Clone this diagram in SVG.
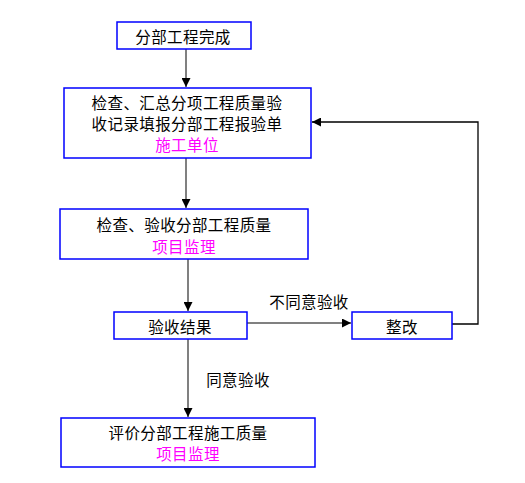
<svg xmlns="http://www.w3.org/2000/svg" width="525" height="483" viewBox="0 0 525 483">
<style>
.box{fill:#fff;stroke:#0000ff;stroke-width:1.5}
.t{font-family:"Noto Sans CJK SC","Noto Sans CJK JP",sans-serif;font-size:15.5px;fill:#000;text-anchor:middle;letter-spacing:0.4px}
.m{fill:#ff00ff}
.ln{stroke:#808080;stroke-width:2;fill:none}
.lb{stroke:#000;stroke-width:1.3;fill:none}
</style>
<defs>
<marker id="ah" viewBox="0 0 10 10" refX="10" refY="5" markerWidth="9" markerHeight="9" markerUnits="userSpaceOnUse" orient="auto">
<path d="M0,0 L10,5 L0,10 Z" fill="#000"/>
</marker>
</defs>
<rect width="525" height="483" fill="#fff"/>
<g id="connectors">
<line class="ln" x1="186" y1="49" x2="186" y2="87" marker-end="url(#ah)"/>
<line class="ln" x1="186" y1="158" x2="186" y2="208" marker-end="url(#ah)"/>
<line class="ln" x1="188" y1="259" x2="188" y2="311" marker-end="url(#ah)"/>
<line class="ln" x1="188" y1="339" x2="188" y2="417" marker-end="url(#ah)"/>
<line class="ln" x1="247" y1="323" x2="351" y2="323" marker-end="url(#ah)"/>
<polyline class="lb" points="452,324 478,324 478,122 312,122" marker-end="url(#ah)"/>
<text class="t" x="309" y="308">不同意验收</text>
<text class="t" x="238" y="386">同意验收</text>
</g>
<g id="n1">
<rect class="box" x="117" y="22" width="134" height="27"/>
<text class="t" x="183" y="43">分部工程完成</text>
</g>
<g id="n2">
<rect class="box" x="64" y="88" width="247" height="70"/>
<text class="t" x="187" y="108.5">检查、汇总分项工程质量验</text>
<text class="t" x="187" y="129.5">收记录填报分部工程报验单</text>
<text class="t m" x="187" y="150.5">施工单位</text>
</g>
<g id="n3">
<rect class="box" x="60" y="209" width="248" height="50"/>
<text class="t" x="184" y="230.5">检查、验收分部工程质量</text>
<text class="t m" x="184" y="252.5">项目监理</text>
</g>
<g id="n4">
<rect class="box" x="114" y="312" width="133" height="27"/>
<text class="t" x="180" y="332.5">验收结果</text>
</g>
<g id="n5">
<rect class="box" x="352" y="312" width="100" height="27"/>
<text class="t" x="402" y="332.5">整改</text>
</g>
<g id="n6">
<rect class="box" x="61" y="418" width="254" height="49"/>
<text class="t" x="188" y="438.5">评价分部工程施工质量</text>
<text class="t m" x="188" y="459.5">项目监理</text>
</g>
</svg>
